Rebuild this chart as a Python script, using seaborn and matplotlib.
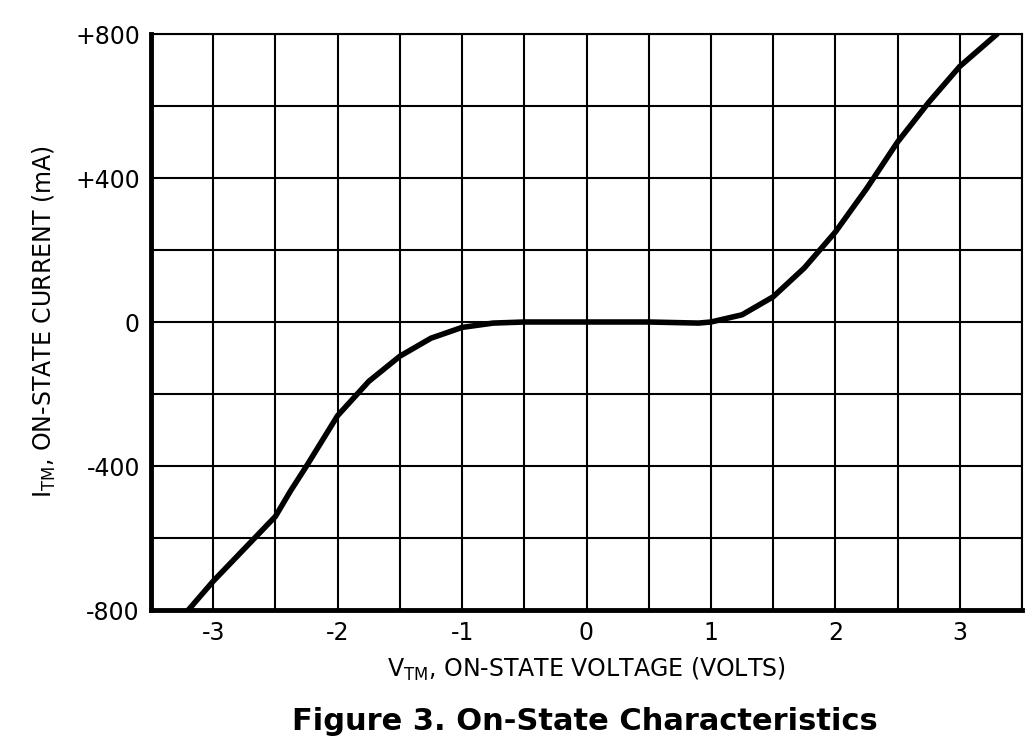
import matplotlib
matplotlib.use("Agg")
import matplotlib.pyplot as plt
import seaborn as sns
import pandas as pd

# on-state characteristic
volts = [-3.2, -3.0, -2.75, -2.5, -2.38, -2.25, -2.0, -1.75, -1.5, -1.25, -1.0, -0.75, -0.5,
         0.0, 0.5, 0.9, 1.0, 1.25, 1.5, 1.75, 2.0, 2.25, 2.5, 2.75, 3.0, 3.3]
current = [-800, -720, -630, -540, -470, -400, -260, -165, -95, -45, -15, -3, 0,
           0, 0, -3, 0, 20, 70, 150, 250, 370, 500, 610, 710, 800]
x_ticks = [-3, -2, -1, 0, 1, 2, 3]
y_ticks = [-800, -400, 0, 400, 800]
y_labels = ["-800", "-400", "0", "+400", "+800"]

df = pd.DataFrame({"v": volts, "i": current})

sns.set_theme(style="white")
plt.rcParams['font.family'] = ['DejaVu Sans']
plt.rcParams['mathtext.default'] = 'regular'
plt.rcParams['text.color'] = 'black'
plt.rcParams['xtick.color'] = 'black'
plt.rcParams['ytick.color'] = 'black'
plt.rcParams['axes.labelcolor'] = 'black'

fig = plt.figure(figsize=(10.36, 7.43), dpi=100)
ax = fig.add_axes([151/1036, 1 - 610/743, (1022-151)/1036, (610-34)/743])

for gx in [i * 0.5 for i in range(-7, 8)]:
    ax.axvline(gx, color="black", lw=1.5, zorder=1)
for gy in range(-800, 801, 200):
    ax.axhline(gy, color="black", lw=1.5, zorder=1)

sns.lineplot(data=df, x="v", y="i", ax=ax, color="black", lw=4, zorder=3,
             solid_joinstyle="round", solid_capstyle="round")

ax.set_xlim(-3.5, 3.5)
ax.set_ylim(-800, 800)
ax.set_xticks(x_ticks)
ax.set_xticklabels([str(t) for t in x_ticks], fontsize=17)
ax.set_yticks(y_ticks)
ax.set_yticklabels(y_labels, fontsize=17)
ax.tick_params(length=0, pad=8)
for s in ["left", "bottom"]:
    ax.spines[s].set_linewidth(3.5)
    ax.spines[s].set_color("black")
for s in ["top", "right"]:
    ax.spines[s].set_linewidth(1.5)
    ax.spines[s].set_color("black")

ax.set_xlabel(r"V$_{TM}$, ON-STATE VOLTAGE (VOLTS)", fontsize=17, labelpad=8)
ax.set_ylabel(r"I$_{TM}$, ON-STATE CURRENT (mA)", fontsize=17, labelpad=12)

fig.text(0.565, 0.01, "Figure 3. On-State Characteristics", ha="center", va="bottom",
         fontsize=22, fontweight="bold")

fig.savefig("out.png", dpi=100)
